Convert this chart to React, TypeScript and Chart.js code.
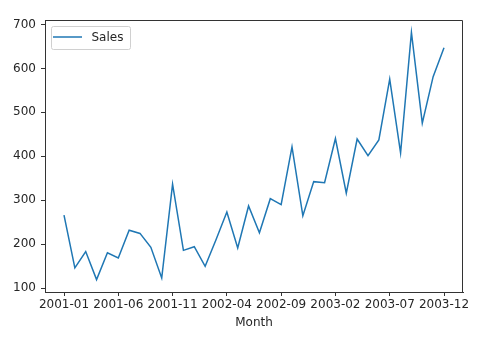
import React, { useEffect, useRef } from "react";
import { Chart, registerables } from "chart.js";

Chart.register(...registerables);

const months: string[] = [
  "2001-01","2001-02","2001-03","2001-04","2001-05","2001-06","2001-07","2001-08","2001-09","2001-10","2001-11","2001-12",
  "2002-01","2002-02","2002-03","2002-04","2002-05","2002-06","2002-07","2002-08","2002-09","2002-10","2002-11","2002-12",
  "2003-01","2003-02","2003-03","2003-04","2003-05","2003-06","2003-07","2003-08","2003-09","2003-10","2003-11","2003-12",
];
const sales: number[] = [
  266.0, 145.9, 183.1, 119.3, 180.3, 168.5, 231.8, 224.5, 192.8, 122.9, 336.5, 185.9,
  194.3, 149.5, 210.1, 273.3, 191.4, 287.0, 226.0, 303.6, 289.9, 421.6, 264.5, 342.3,
  339.7, 440.4, 315.9, 439.3, 401.3, 437.4, 575.5, 407.6, 682.0, 475.3, 581.3, 646.9,
];
const xTickIndices: number[] = [0, 5, 10, 15, 20, 25, 30, 35];
const yTicks: number[] = [100, 200, 300, 400, 500, 600, 700];
const seriesName = "Sales";
const xTitle = "Month";

const FONT = "'DejaVu Sans', sans-serif";
const LINE = "#1f77b4";
const TEXT = "#262626";

export default function App() {
  const ref = useRef<HTMLCanvasElement | null>(null);

  useEffect(() => {
    if (!ref.current) return;
    const n = sales.length;
    const xm = (n - 1) * 0.05;
    const ymin = Math.min(...sales);
    const ymax = Math.max(...sales);
    const ym = (ymax - ymin) * 0.05;

    const framePlugin = {
      id: "frame",
      afterDraw(chart: any) {
        const { ctx, chartArea: a } = chart;
        ctx.save();
        ctx.strokeStyle = "#333";
        ctx.lineWidth = 1;
        ctx.beginPath();
        ctx.moveTo(Math.round(a.left), Math.round(a.top) + 0.5);
        ctx.lineTo(Math.round(a.right) - 0.5, Math.round(a.top) + 0.5);
        ctx.lineTo(Math.round(a.right) - 0.5, Math.round(a.bottom));
        ctx.stroke();
        // legend
        const lx = 51.5, ly = 26.5, lw = 79, lh = 23;
        ctx.fillStyle = "rgba(255,255,255,0.8)";
        ctx.strokeStyle = "#d0d0d0";
        ctx.lineWidth = 1;
        ctx.beginPath();
        const r = 2;
        ctx.moveTo(lx + r, ly);
        ctx.arcTo(lx + lw, ly, lx + lw, ly + lh, r);
        ctx.arcTo(lx + lw, ly + lh, lx, ly + lh, r);
        ctx.arcTo(lx, ly + lh, lx, ly, r);
        ctx.arcTo(lx, ly, lx + lw, ly, r);
        ctx.closePath();
        ctx.fill();
        ctx.stroke();
        ctx.strokeStyle = LINE;
        ctx.lineWidth = 1.5;
        ctx.beginPath();
        ctx.moveTo(lx + 1.5, ly + lh / 2 - 1);
        ctx.lineTo(lx + 30.5, ly + lh / 2 - 1);
        ctx.stroke();
        ctx.fillStyle = TEXT;
        ctx.font = `12px ${FONT}`;
        ctx.textBaseline = "middle";
        ctx.textAlign = "left";
        ctx.fillText(seriesName, lx + 40, ly + lh / 2 - 0.5);
        ctx.restore();
      },
    };

    const chart = new Chart(ref.current, {
      type: "line",
      data: {
        datasets: [
          {
            label: seriesName,
            data: sales.map((v, i) => ({ x: i, y: v })),
            borderColor: LINE,
            borderWidth: 1.5,
            pointRadius: 0,
            tension: 0,
            fill: false,
          },
        ],
      },
      options: {
        animation: false,
        responsive: false,
        devicePixelRatio: 1,
        layout: { padding: { top: 20, right: 24, left: 0, bottom: 0 } },
        plugins: { legend: { display: false }, tooltip: { enabled: false } },
        scales: {
          x: {
            type: "linear",
            min: -xm,
            max: n - 1 + xm,
            afterFit: (s: any) => { s.height = 59; },
            afterBuildTicks: (s: any) => { s.ticks = xTickIndices.map((v) => ({ value: v })); },
            grid: { display: true, drawOnChartArea: false, tickLength: 4, color: "#333", tickWidth: 1 },
            border: { display: true, color: "#333", width: 1 },
            ticks: {
              color: TEXT,
              font: { family: FONT, size: 12 },
              padding: 2,
              maxRotation: 0,
              autoSkip: false,
              callback: (v: any) => months[Math.round(Number(v))] ?? "",
            },
            title: { display: true, text: xTitle, color: TEXT, font: { family: FONT, size: 12 }, padding: { top: 0, bottom: 21 } },
          },
          y: {
            type: "linear",
            min: ymin - ym,
            max: ymax + ym,
            afterFit: (s: any) => { s.width = 45; },
            afterBuildTicks: (s: any) => { s.ticks = yTicks.map((v) => ({ value: v })); },
            grid: { display: true, drawOnChartArea: false, tickLength: 4, color: "#333", tickWidth: 1 },
            border: { display: true, color: "#333", width: 1 },
            ticks: {
              color: TEXT,
              font: { family: FONT, size: 12 },
              padding: 5,
              callback: (v: any) => String(v),
            },
          },
        },
      },
      plugins: [framePlugin],
    } as any);
    return () => chart.destroy();
  }, []);

  return (
    <div style={{ position: "absolute", left: 0, top: 0, width: 487, height: 351, background: "#fff" }}>
      <canvas ref={ref} width={487} height={351} style={{ width: 487, height: 351 }} />
    </div>
  );
}
